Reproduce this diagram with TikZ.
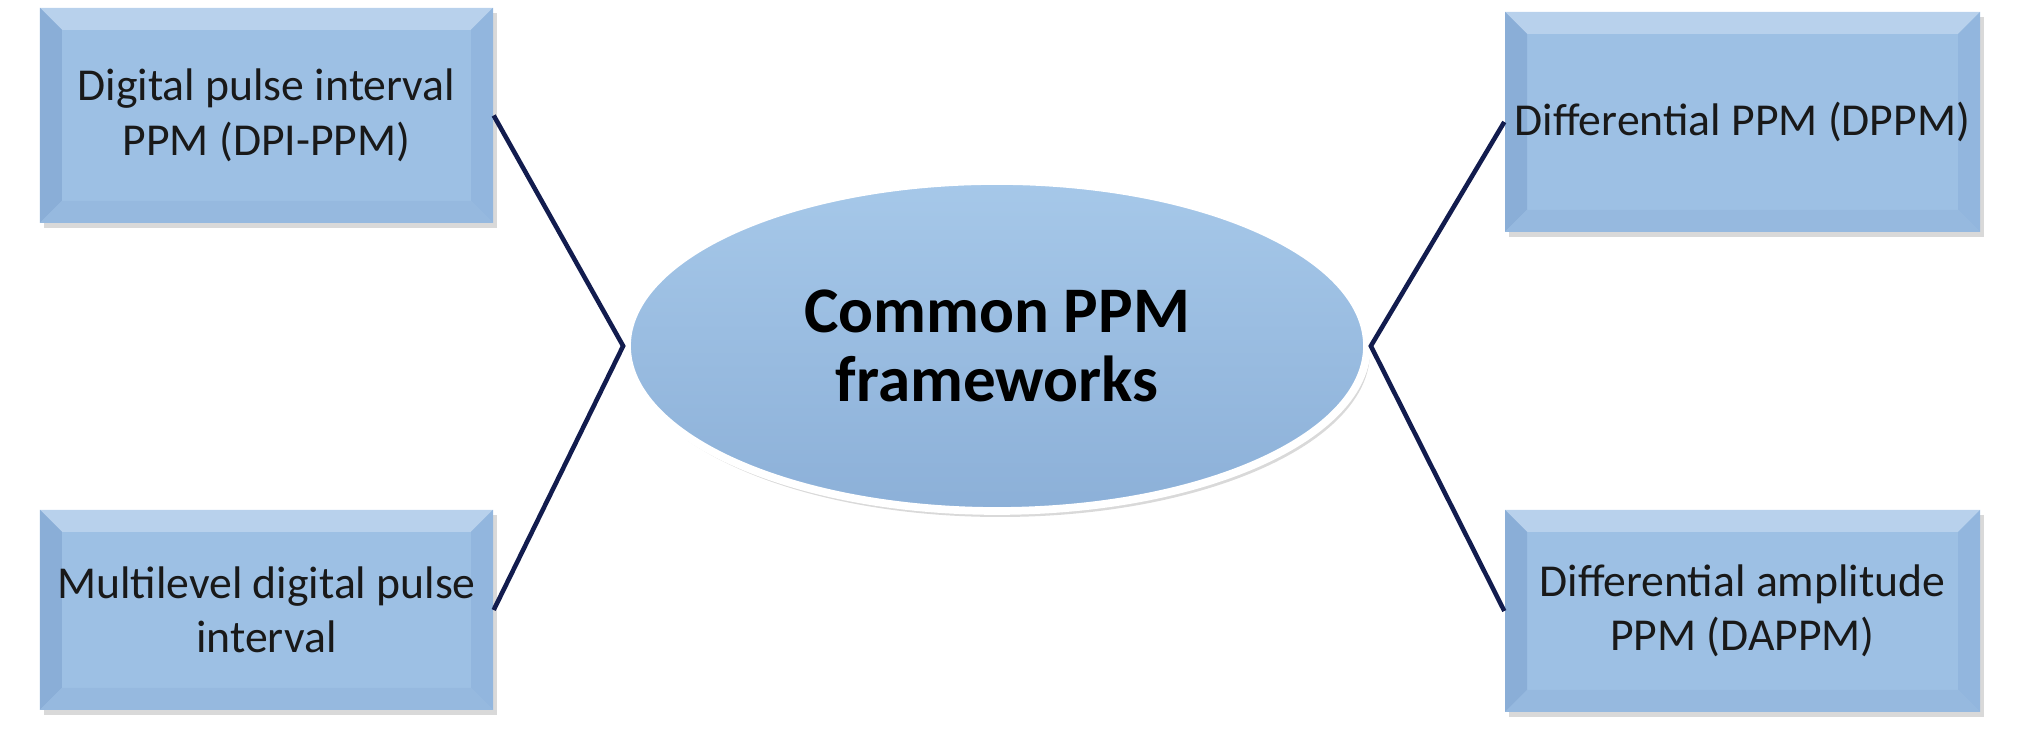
\documentclass[tikz,border=0pt]{standalone}
\usepackage{fontspec}
\setmainfont{Carlito}
\usepackage{tikz}
\usetikzlibrary{shapes.geometric,shadows}

\definecolor{boxblue}{RGB}{157,192,228}
\definecolor{bevtop}{RGB}{184,209,236}
\definecolor{bevleft}{RGB}{138,174,215}
\definecolor{bevright}{RGB}{146,182,222}
\definecolor{bevbottom}{RGB}{150,185,223}
\definecolor{ovaltop}{RGB}{166,200,233}
\definecolor{ovalbottom}{RGB}{140,176,216}
\definecolor{linknavy}{RGB}{18,28,78}

\tikzset{
  framebox/.style={rectangle, fill=boxblue, inner sep=0pt, align=center,
    font=\fontsize{13}{15.5}\selectfont, text=black!90,
    drop shadow={opacity=0.3, shadow xshift=0.04, shadow yshift=-0.05},
    path picture={
      % bevelled edges
      \fill [bevtop] (path picture bounding box.north west) --
        (path picture bounding box.north east) --
        ([shift={(-0.22,-0.22)}]path picture bounding box.north east) --
        ([shift={(0.22,-0.22)}]path picture bounding box.north west) -- cycle;
      \fill [bevleft] (path picture bounding box.north west) --
        ([shift={(0.22,-0.22)}]path picture bounding box.north west) --
        ([shift={(0.22,0.22)}]path picture bounding box.south west) --
        (path picture bounding box.south west) -- cycle;
      \fill [bevright] (path picture bounding box.north east) --
        ([shift={(-0.22,-0.22)}]path picture bounding box.north east) --
        ([shift={(-0.22,0.22)}]path picture bounding box.south east) --
        (path picture bounding box.south east) -- cycle;
      \fill [bevbottom] (path picture bounding box.south west) --
        ([shift={(0.22,0.22)}]path picture bounding box.south west) --
        ([shift={(-0.22,0.22)}]path picture bounding box.south east) --
        (path picture bounding box.south east) -- cycle;
    }},
  oval/.style={ellipse, inner sep=0pt, align=center,
    top color=ovaltop, bottom color=ovalbottom,
    draw=white, line width=2.2pt,
    drop shadow={opacity=0.3, shadow xshift=0.03, shadow yshift=-0.06},
    font=\fontsize{18.5}{19.5}\selectfont\bfseries},
  link/.style={draw=linknavy, line width=1.3pt}
}

\begin{document}
\begin{tikzpicture}
  \useasboundingbox (0, 0) rectangle (20.2, 7.34);

  % Centre
  \node [oval, minimum width=7.4cm, minimum height=3.3cm] (common)
    at (9.97, 3.88) {Common PPM\\frameworks};

  % Left column
  \node [framebox, minimum width=4.53cm, minimum height=2.15cm] (dpippm)
    at (2.665, 6.185) {Digital pulse interval\\PPM (DPI-PPM)};
  \node [framebox, minimum width=4.53cm, minimum height=2.0cm] (mdpi)
    at (2.665, 1.24) {Multilevel digital pulse\\interval};

  % Right column
  \node [framebox, minimum width=4.75cm, minimum height=2.2cm] (dppm)
    at (17.425, 6.12) {Differential PPM (DPPM)};
  \node [framebox, minimum width=4.75cm, minimum height=2.02cm] (dappm)
    at (17.425, 1.23) {Differential amplitude\\PPM (DAPPM)};

  % Links
  \draw [link] (dpippm.east) -- (common.west) -- (mdpi.east);
  \draw [link] (dppm.west) -- (common.east) -- (dappm.west);
\end{tikzpicture}
\end{document}
